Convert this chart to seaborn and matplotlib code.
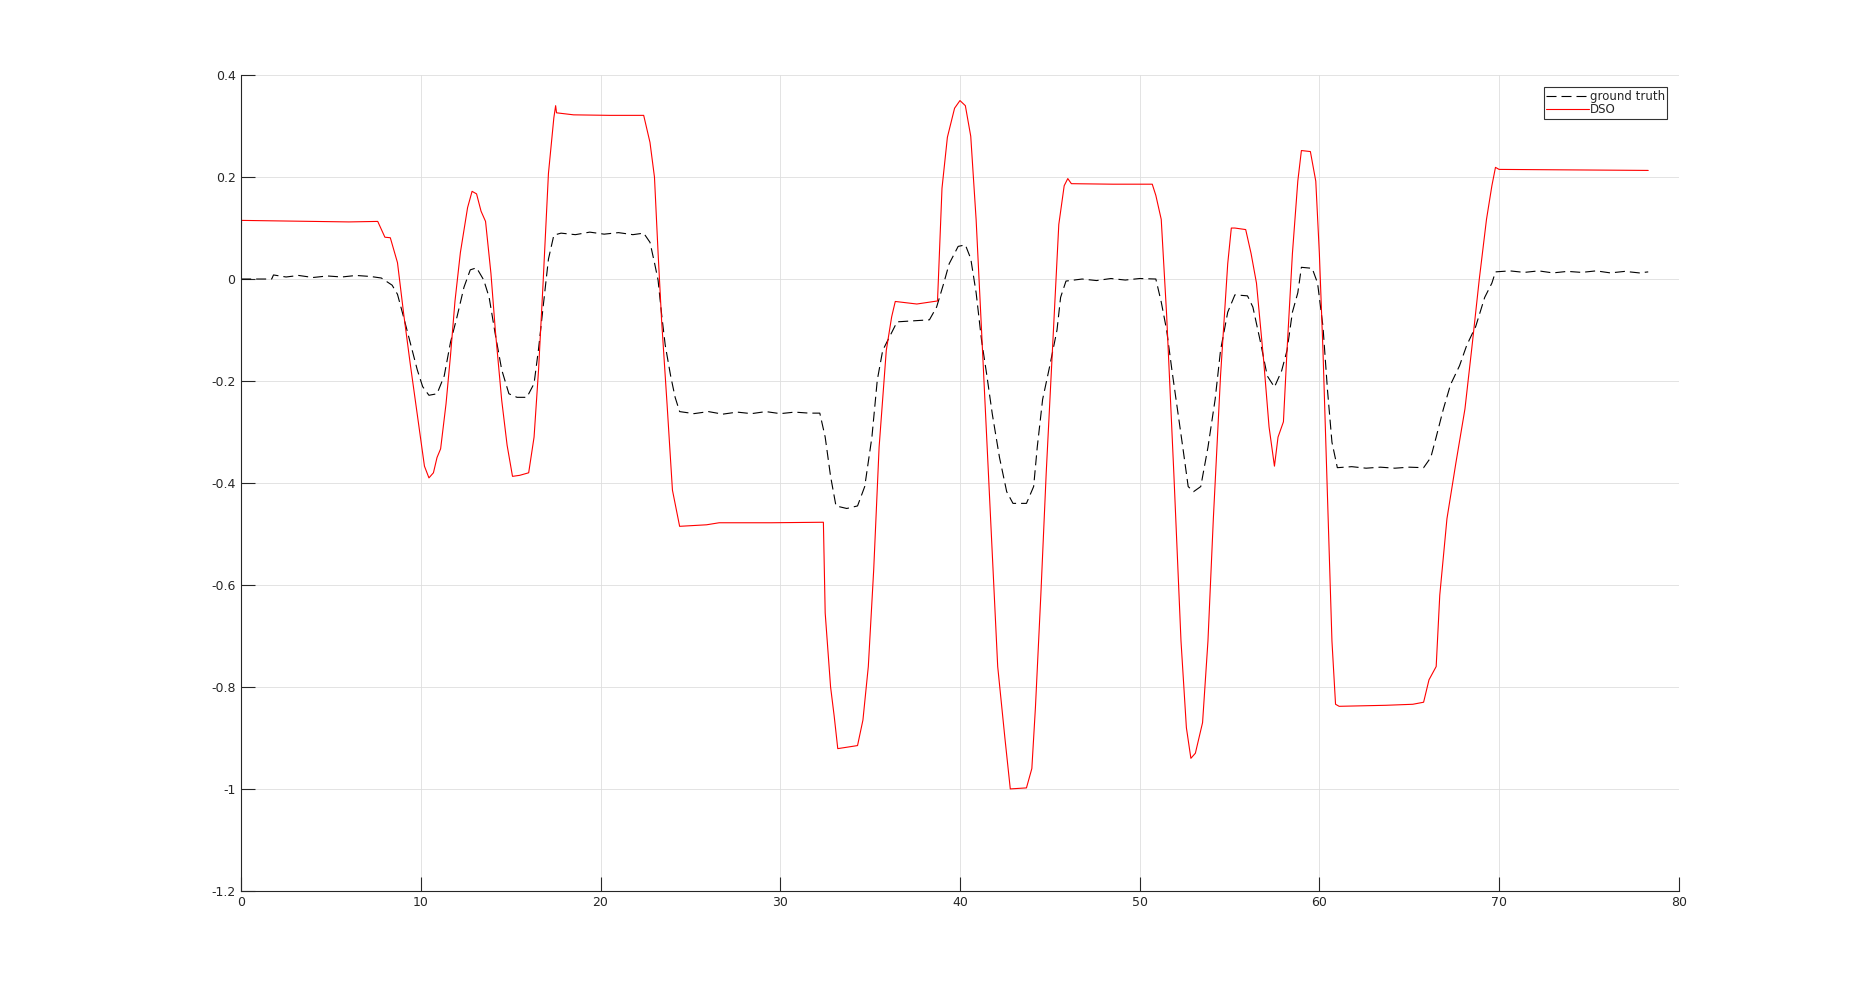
import matplotlib
matplotlib.use("Agg")
import matplotlib.pyplot as plt
import seaborn as sns
import pandas as pd

# ground truth (black dashed)
gt_t = [0, 1.7, 1.8, 2.5, 3.2, 4.0, 4.8, 5.6, 6.4, 7.2,
        7.8, 8.4, 8.7, 9.05, 9.4, 9.8, 10.1, 10.45, 10.9, 11.3,
        11.65, 12.0, 12.4, 12.75, 13.1, 13.5, 13.8, 14.15, 14.5, 14.9,
        15.35, 15.9, 16.3, 16.55, 16.8, 17.1, 17.4, 17.8, 18.6, 19.4,
        20.2, 21.0, 21.8, 22.4, 22.75, 23.0, 23.2, 23.4, 23.6, 23.9,
        24.15, 24.4, 25.2, 26.0, 26.8, 27.6, 28.4, 29.2, 30.0, 30.8,
        31.6, 32.2, 32.5, 32.8, 33.1, 33.7, 34.3, 34.7, 35.1, 35.4,
        35.7, 36.1, 36.5, 37.4, 38.3, 38.7, 39.1, 39.4, 39.9, 40.3,
        40.6, 40.9, 41.2, 41.5, 41.8, 42.2, 42.6, 42.95, 43.7, 44.1,
        44.3, 44.6, 45.0, 45.4, 45.6, 45.9, 46.8, 47.6, 48.4, 49.2,
        50.0, 50.9, 51.2, 51.5, 51.8, 52.1, 52.4, 52.7, 53.0, 53.4,
        53.8, 54.2, 54.5, 54.9, 55.3, 56.0, 56.3, 56.7, 57.1, 57.5,
        57.9, 58.2, 58.5, 58.8, 59.0, 59.6, 59.9, 60.2, 60.45, 60.7,
        61.0, 61.8, 62.6, 63.4, 64.2, 65.0, 65.8, 66.2, 66.5, 66.9,
        67.3, 67.8, 68.2, 68.7, 69.2, 69.6, 69.8, 70.6, 71.4, 72.2,
        73.0, 73.8, 74.6, 75.4, 76.2, 77.0, 77.8, 78.3]
gt_v = [0, 0, 0.008, 0.004, 0.007, 0.003, 0.006, 0.004, 0.007, 0.005,
        0.002, -0.012, -0.03, -0.076, -0.124, -0.178, -0.211, -0.228, -0.225, -0.19,
        -0.124, -0.076, -0.016, 0.018, 0.022, -0.002, -0.036, -0.11, -0.178, -0.225,
        -0.232, -0.232, -0.205, -0.137, -0.056, 0.039, 0.086, 0.09, 0.087, 0.092,
        0.088, 0.091, 0.087, 0.09, 0.072, 0.032, -0.002, -0.07, -0.13, -0.19,
        -0.232, -0.26, -0.264, -0.26, -0.265, -0.261, -0.264, -0.26, -0.264, -0.261,
        -0.263, -0.263, -0.31, -0.387, -0.445, -0.45, -0.445, -0.407, -0.31, -0.198,
        -0.14, -0.112, -0.084, -0.082, -0.08, -0.055, -0.008, 0.03, 0.064, 0.067,
        0.04, -0.027, -0.12, -0.19, -0.265, -0.35, -0.417, -0.44, -0.44, -0.407,
        -0.33, -0.236, -0.17, -0.1, -0.036, -0.004, 0.0, -0.003, 0.001, -0.002,
        0.001, 0.0, -0.045, -0.1, -0.18, -0.255, -0.33, -0.407, -0.417, -0.407,
        -0.33, -0.236, -0.14, -0.065, -0.031, -0.033, -0.055, -0.12, -0.19, -0.212,
        -0.18, -0.14, -0.065, -0.027, 0.023, 0.021, -0.008, -0.093, -0.217, -0.32,
        -0.37, -0.368, -0.371, -0.369, -0.371, -0.369, -0.37, -0.35, -0.31, -0.255,
        -0.207, -0.17, -0.13, -0.093, -0.036, -0.008, 0.014, 0.016, 0.013, 0.016,
        0.012, 0.015, 0.013, 0.016, 0.012, 0.015, 0.012, 0.014]

# DSO estimate (red)
dso_t = [0, 0.02, 2.0, 4.0, 6.0, 7.6, 8.0, 8.3, 8.7, 9.05,
         9.4, 9.8, 10.2, 10.45, 10.7, 10.9, 11.1, 11.4, 11.65, 11.9,
         12.2, 12.6, 12.85, 13.1, 13.35, 13.6, 13.9, 14.15, 14.5, 14.8,
         15.1, 15.5, 16.0, 16.3, 16.55, 16.8, 17.1, 17.4, 17.5, 17.55,
         18.5, 20.5, 22.4, 22.75, 23.0, 23.2, 23.4, 23.7, 24.0, 24.4,
         25.9, 26.6, 29.5, 32.4, 32.5, 32.8, 33.0, 33.2, 34.3, 34.6,
         34.9, 35.2, 35.5, 35.9, 36.2, 36.4, 37.6, 38.75, 38.8, 39.0,
         39.3, 39.7, 40.0, 40.3, 40.6, 40.9, 41.2, 41.65, 42.1, 42.5,
         42.8, 43.7, 44.0, 44.2, 44.5, 44.8, 45.2, 45.5, 45.8, 46.0,
         46.2, 48.5, 50.7, 50.9, 51.2, 51.5, 51.9, 52.3, 52.6, 52.85,
         53.1, 53.5, 53.8, 54.1, 54.5, 54.9, 55.1, 55.3, 55.9, 56.2,
         56.5, 56.9, 57.2, 57.5, 57.7, 58.0, 58.2, 58.5, 58.8, 59.0,
         59.5, 59.8, 60.0, 60.2, 60.45, 60.7, 60.9, 61.1, 63.7, 65.2,
         65.8, 66.1, 66.5, 66.7, 67.1, 67.6, 68.1, 68.5, 68.9, 69.3,
         69.6, 69.8, 70.0, 74.0, 78.3]
dso_v = [0, 0.115, 0.114, 0.113, 0.112, 0.113, 0.082, 0.081, 0.032, -0.07,
         -0.164, -0.266, -0.367, -0.39, -0.38, -0.35, -0.333, -0.245, -0.15, -0.043,
         0.052, 0.14, 0.172, 0.167, 0.133, 0.113, 0.011, -0.103, -0.238, -0.326,
         -0.387, -0.385, -0.38, -0.31, -0.178, -0.009, 0.207, 0.316, 0.34, 0.326,
         0.322, 0.321, 0.321, 0.268, 0.2, 0.052, -0.083, -0.245, -0.414, -0.485,
         -0.482, -0.478, -0.478, -0.477, -0.655, -0.8, -0.857, -0.921, -0.915, -0.865,
         -0.76, -0.57, -0.33, -0.14, -0.074, -0.044, -0.049, -0.043, 0.0, 0.178,
         0.278, 0.335, 0.35, 0.34, 0.28, 0.116, -0.1, -0.43, -0.76, -0.9,
         -1.0, -0.998, -0.96, -0.84, -0.62, -0.38, -0.1, 0.107, 0.183, 0.197,
         0.187, 0.186, 0.186, 0.164, 0.117, -0.07, -0.38, -0.71, -0.88, -0.94,
         -0.93, -0.87, -0.71, -0.47, -0.19, 0.03, 0.1, 0.1, 0.097, 0.05,
         -0.008, -0.16, -0.29, -0.367, -0.31, -0.28, -0.14, 0.05, 0.192, 0.252,
         0.25, 0.192, 0.05, -0.14, -0.425, -0.71, -0.834, -0.838, -0.836, -0.834,
         -0.83, -0.786, -0.76, -0.62, -0.47, -0.36, -0.255, -0.13, 0.0, 0.117,
         0.183, 0.219, 0.215, 0.214, 0.213]

x_ticks = [0, 10, 20, 30, 40, 50, 60, 70, 80]
y_ticks = [-1.2, -1.0, -0.8, -0.6, -0.4, -0.2, 0, 0.2, 0.4]
y_tick_labels = ["-1.2", "-1", "-0.8", "-0.6", "-0.4", "-0.2", "0", "0.2", "0.4"]

sns.set_theme(style="white")
plt.rcParams["font.family"] = ["DejaVu Sans"]

gt = pd.DataFrame({"t": gt_t, "v": gt_v})
dso = pd.DataFrame({"t": dso_t, "v": dso_v})

fig = plt.figure(figsize=(18.55, 10.01), dpi=100)
fig.patch.set_facecolor("white")
ax = fig.add_axes([0.13, 0.11, 0.775, 0.815])

sns.lineplot(data=gt, x="t", y="v", ax=ax, color="black", linewidth=0.8,
             linestyle=(0, (9, 4.5)), estimator=None, label="ground truth")
sns.lineplot(data=dso, x="t", y="v", ax=ax, color="#ff0000", linewidth=0.8,
             estimator=None, label="DSO")

ax.set_xlim(0, 80)
ax.set_ylim(-1.2, 0.4)
ax.set_xticks(x_ticks)
ax.set_xticklabels([str(x) for x in x_ticks])
ax.set_yticks(y_ticks)
ax.set_yticklabels(y_tick_labels)
ax.set_xlabel("")
ax.set_ylabel("")

ax.grid(True, color="#dedede", linewidth=0.6)
ax.set_axisbelow(True)
for side in ["top", "right"]:
    ax.spines[side].set_visible(False)
for side in ["left", "bottom"]:
    ax.spines[side].set_color("#262626")
    ax.spines[side].set_linewidth(0.8)
ax.tick_params(direction="in", length=10, width=0.8, color="#262626",
               labelsize=9, labelcolor="#262626", pad=4,
               left=True, bottom=True)

leg = ax.legend(loc="upper right", bbox_to_anchor=(0.992, 0.985),
                borderaxespad=0, fontsize=8.5, frameon=True, fancybox=False,
                handlelength=3.6, handletextpad=0.1, borderpad=0.2,
                labelspacing=0.05)
leg.get_frame().set_edgecolor("black")
leg.get_frame().set_linewidth(0.8)

fig.savefig("out.png", dpi=100, facecolor="white")
